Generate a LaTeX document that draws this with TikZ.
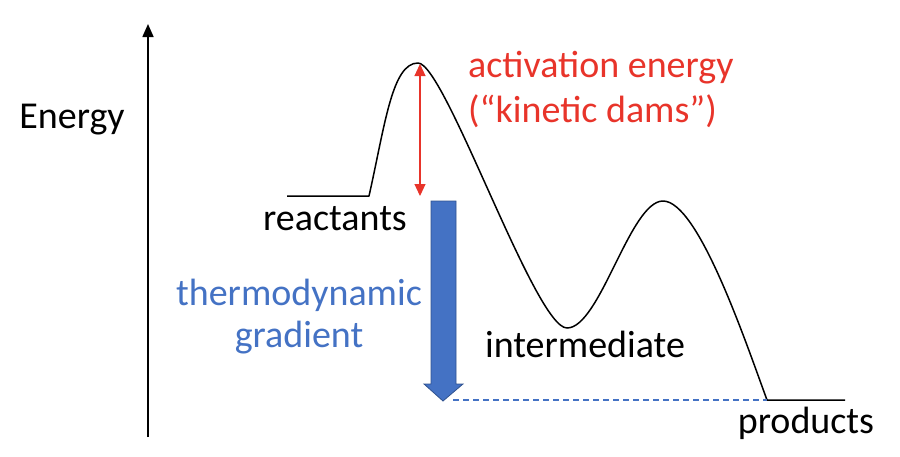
\documentclass[tikz,border=0pt]{standalone}
\usepackage{fontspec}
\setmainfont{Carlito}
\usetikzlibrary{arrows.meta}
\definecolor{actred}{HTML}{E8342A}
\definecolor{gradblue}{HTML}{4472C4}
\definecolor{gradedge}{HTML}{2F528F}
\tikzset{
  lbl/.style={font=\fontsize{38}{45}\selectfont, inner sep=0pt, anchor=base},
  path/.style={line width=1.5pt, line join=round},
}
\begin{document}
\begin{tikzpicture}[x=1pt, y=-1pt]
            \useasboundingbox (0,0) rectangle (900,456);
            % Energy axis
            \coordinate (axbot) at (148,437);
            \coordinate (axtop) at (148,24);
            \draw[line width=1.6pt, -{Triangle[length=13pt, width=11pt]}] (axbot) -- (axtop);
            \node[lbl] (energy) at (72,128) {Energy};
            % Reaction path
            \coordinate (reac) at (287,196);
            \coordinate (ts1) at (418,63);
            \coordinate (inter) at (567,328);
            \coordinate (ts2) at (663,201);
            \coordinate (prod) at (767,400);
            \draw[path] (reac) -- (369,196)
                .. controls (385,125) and (392,63) .. (ts1)
                .. controls (445,63) and (535,328) .. (inter)
                .. controls (600,328) and (630,201) .. (ts2)
                .. controls (698,201) and (745,340) .. (prod) -- (845,400);
            % Activation energy
            \coordinate (acttop) at (420,64);
            \coordinate (actbot) at (420,196);
            \draw[actred, line width=1.2pt, {Triangle[length=12pt, width=11pt]}-{Triangle[length=12pt, width=11pt]}] (acttop) -- (actbot);
            \node[lbl, anchor=base west, align=left, text=actred] (act) at (468,122) {activation energy\\(“kinetic dams”)};
            % Thermodynamic gradient
            \draw[fill=gradblue, draw=gradedge, line width=0.8pt, line join=miter]
                (431,201) -- (456,201) -- (456,384) -- (463,384) -- (443,401)
                -- (424,384) -- (431,384) -- cycle;
            \coordinate (dashstart) at (453,400);
            \draw[gradblue, line width=1.2pt, dash pattern=on 6pt off 4pt] (dashstart) -- (prod);
            \node[lbl, align=center, text=gradblue, font=\fontsize{38}{42}\selectfont] (grad) at (299,347) {thermodynamic\\gradient};
            % State labels
            \node[lbl] (reaclbl) at (335,230) {reactants};
            \node[lbl] (interlbl) at (585,357) {intermediate};
            \node[lbl] (prodlbl) at (806,433) {products};
        \end{tikzpicture}
\end{document}
